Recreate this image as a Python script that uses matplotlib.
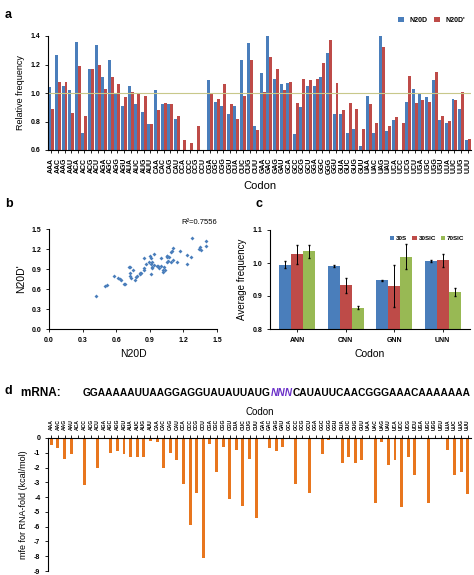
import matplotlib
matplotlib.use("Agg")
import matplotlib.pyplot as plt
import numpy as np

plt.rcParams['font.family'] = ['Liberation Sans', 'DejaVu Sans']
plt.rcParams['font.weight'] = 'bold'

codons = [a+b+c for a in "ACGU" for b in "ACGU" for c in "ACGU"]
nan = np.nan
n20d = [1.04,1.27,1.05,1.02,1.36,0.72,1.17,1.34,1.11,1.23,1.00,0.91,1.05,0.92,0.87,0.78,
        1.02,0.92,0.92,0.82,nan,nan,nan,nan,1.09,0.94,0.91,0.85,0.91,1.23,1.35,0.77,
        1.14,1.40,1.10,1.06,1.07,0.71,0.90,1.05,1.05,1.11,1.28,0.85,0.85,0.72,0.75,0.63,
        0.98,0.72,1.40,0.73,0.81,nan,0.94,1.03,1.00,0.97,1.09,0.81,0.79,0.96,0.89,0.67]
n20dp = [0.89,1.08,1.08,0.86,1.19,0.84,1.17,1.20,1.03,1.11,1.06,0.97,1.01,1.00,0.98,0.78,
         0.88,0.93,0.92,0.84,0.67,0.65,0.77,nan,1.00,0.96,1.06,0.92,0.82,0.98,1.23,0.74,
         1.01,1.25,1.17,1.02,1.08,0.93,1.10,1.09,1.10,1.21,1.37,1.07,0.88,0.93,0.89,0.75,
         0.92,0.79,1.32,0.77,0.83,0.79,1.12,0.93,0.95,0.94,1.15,0.84,0.80,0.95,1.01,0.68]
# scatter points of codons below the panel-a axis floor
low_x = [0.42, 0.50, 0.52, 0.58, 0.62, 0.64, 0.68]
low_y = [0.50, 0.64, 0.66, 0.79, 0.76, 0.74, 0.68]
groups = ["ANN","CNN","GNN","UNN"]
s30 = [0.995,0.992,0.947,1.005]; s30_err = [0.010,0.003,0.003,0.003]
s30ic = [1.026,0.932,0.931,1.008]; s30ic_err = [0.030,0.023,0.063,0.020]
s70ic = [1.035,0.865,1.019,0.912]; s70ic_err = [0.020,0.005,0.038,0.013]
mfe = [-0.5,-0.7,-1.4,-1.1,0,-3.2,0,-2.0,0,-1.0,-0.9,-1.1,-1.3,-1.3,-1.3,-0.2,
       -0.3,-2.0,-1.0,-1.5,-3.1,-5.9,-3.7,-8.1,-0.4,-2.3,-0.6,-4.1,-0.8,-4.6,-1.4,-5.4,
       0,-0.7,-0.9,-0.6,0,-3.1,0,-3.7,0,-1.1,-0.15,0,-1.7,-1.3,-1.7,-1.5,
       0,-4.4,-0.3,-1.8,-1.5,-4.7,-1.3,-2.5,0,-4.4,0,0,-0.8,-2.5,-2.3,-3.8]

BLUE, RED, GREEN, ORANGE = '#4A7EBB', '#BE4B48', '#98B954', '#E8761E'
fig = plt.figure(figsize=(4.74, 5.75), dpi=100)
W, H = 474, 575
def ax_px(l, t, r, b):
    return fig.add_axes([l/W, 1-b/H, (r-l)/W, (b-t)/H])

def style(ax):
    for s in ['top','right']:
        ax.spines[s].set_visible(False)
    ax.tick_params(labelsize=5, length=2, width=0.6)

# a
ax = ax_px(48, 36, 471, 150)
x = np.arange(64)
bw = 0.45
ax.bar(x-bw/2, np.array(n20d)-0.6, bw, bottom=0.6, color=BLUE, label='N20D')
ax.bar(x+bw/2, np.array(n20dp)-0.6, bw, bottom=0.6, color=RED, label="N20D'")
ax.axhline(1.0, color='#C8C88A', lw=0.8)
ax.set_ylim(0.6, 1.4); ax.set_xlim(-0.5, 63.5)
ax.set_yticks([0.6,0.8,1.0,1.2,1.4])
ax.set_xticks(x); ax.set_xticklabels(codons, rotation=90, fontsize=3.6)
style(ax)
ax.set_ylabel('Relative frequency', fontsize=6.5)
ax.set_xlabel('Codon', fontsize=8, labelpad=5)
ax.legend(loc='upper right', bbox_to_anchor=(1.0, 1.22), ncol=2, fontsize=5, frameon=False,
          handlelength=0.8, columnspacing=1.0)
fig.text(0.01, 0.985, 'a', fontsize=9, fontweight='bold', va='top')

# b
ax = ax_px(49, 229, 217, 329)
m = ~np.isnan(n20d) & ~np.isnan(n20dp)
bx = np.concatenate([np.array(n20d)[m], low_x]); by = np.concatenate([np.array(n20dp)[m], low_y])
ax.scatter(bx, by, s=4, color=BLUE, marker='D', lw=0)
ax.set_xlim(0, 1.5); ax.set_ylim(0, 1.5)
ticks = [0.0,0.3,0.6,0.9,1.2,1.5]
ax.set_xticks(ticks); ax.set_yticks(ticks)
ax.set_xticklabels([f'{t:.1f}' for t in ticks]); ax.set_yticklabels([f'{t:.1f}' for t in ticks])
style(ax)
ax.set_xlabel('N20D', fontsize=7.5); ax.set_ylabel("N20D'", fontsize=7.5)
ax.text(1.5, 1.58, 'R²=0.7556', fontsize=5.5, fontweight='normal', ha='right')
fig.text(0.01, 0.655, 'b', fontsize=9, fontweight='bold', va='top')

# c
ax = ax_px(270, 230, 470, 329)
gx = np.arange(4); w = 0.25
for off, v, e, c, l in [(-w, s30, s30_err, BLUE, '30S'), (0, s30ic, s30ic_err, RED, '30SIC'),
                        (w, s70ic, s70ic_err, GREEN, '70SIC')]:
    ax.bar(gx+off, np.array(v)-0.8, w, bottom=0.8, color=c, label=l,
           yerr=e, error_kw=dict(lw=0.7, capsize=1, ecolor='black'))
ax.set_ylim(0.8, 1.1); ax.set_yticks([0.8,0.9,1.0,1.1])
ax.set_xticks(gx); ax.set_xticklabels(groups)
style(ax)
ax.set_ylabel('Average frequency', fontsize=7); ax.set_xlabel('Codon', fontsize=7.5)
ax.legend(loc='upper right', ncol=3, fontsize=4.5, frameon=False, handlelength=0.7,
          columnspacing=0.8, handletextpad=0.3)
fig.text(0.54, 0.655, 'c', fontsize=9, fontweight='bold', va='top')

# d
fig.text(0.01, 0.33, 'd', fontsize=9, fontweight='bold', va='top')
t0 = fig.text(0.045, 0.312, 'mRNA: ', fontsize=8.5, va='baseline')
t1 = fig.text(0.175, 0.312, 'GGAAAAAUUAAGGAGGUAUAUUAUG', fontsize=7.3, va='baseline')
t2 = plt.annotate('NNN', xy=(1, 0), xycoords=t1, va='bottom', fontsize=7.3,
                  color='#6A2FC8', style='italic')
t3 = plt.annotate('CAUAUUCAACGGGAAACAAAAAAA', xy=(1, 0), xycoords=t2, va='bottom', fontsize=7.3)
ax = ax_px(48, 438, 471, 571)
ax.bar(x, mfe, 0.45, color=ORANGE)
ax.set_ylim(-9, 0); ax.set_xlim(-0.5, 63.5)
ax.set_yticks(range(-9, 1)); ax.set_yticklabels([str(v) for v in range(-9, 1)])
ax.spines['bottom'].set_visible(False); ax.spines['right'].set_visible(False)
ax.xaxis.tick_top(); ax.xaxis.set_label_position('top')
ax.set_xticks(x); ax.set_xticklabels(codons, rotation=90, fontsize=3.6)
ax.tick_params(labelsize=5, length=2, width=0.6)
ax.tick_params(axis='x', labelsize=3.6)
ax.set_xlabel('Codon', fontsize=7, labelpad=3)
ax.set_ylabel('mfe for RNA-fold (kcal/mol)', fontsize=6.5)
fig.savefig('out.png', dpi=100)
